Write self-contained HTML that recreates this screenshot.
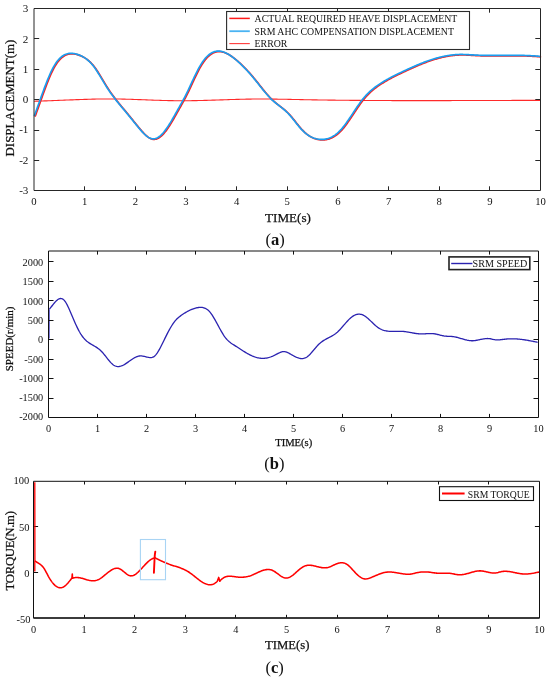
<!DOCTYPE html>
<html><head><meta charset="utf-8"><title>SRM AHC figure</title>
<style>
html,body{margin:0;padding:0;background:#fff;}
body{width:550px;height:681px;overflow:hidden;}
svg{display:block;}
text{font-family:'Liberation Serif','Times New Roman',serif;fill:#111;}
.b{stroke:#111;stroke-width:0.25px;}
</style></head><body>
<svg width="550" height="681" viewBox="0 0 550 681">
<rect x="0" y="0" width="550" height="681" fill="#fff"/>

<g fill="none" stroke-linejoin="round" stroke-linecap="round">
<path d="M34.50 101.20L36.50 101.15L38.50 101.10L40.50 101.05L42.50 100.99L44.50 100.92L46.50 100.85L48.50 100.78L50.50 100.71L52.50 100.64L54.50 100.56L56.50 100.48L58.50 100.40L60.50 100.32L62.50 100.24L64.50 100.16L66.50 100.07L68.50 99.99L70.50 99.91L72.50 99.83L74.50 99.75L76.50 99.67L78.50 99.60L80.50 99.53L82.50 99.46L84.50 99.39L86.50 99.33L88.50 99.26L90.50 99.21L92.50 99.16L94.50 99.11L96.50 99.06L98.50 99.03L100.50 98.99L102.50 98.97L104.50 98.95L106.50 98.93L108.50 98.93L110.50 98.93L112.50 98.94L114.50 98.95L116.50 98.97L118.50 99.00L120.50 99.04L122.50 99.08L124.50 99.13L126.50 99.19L128.50 99.25L130.50 99.31L132.50 99.37L134.50 99.44L136.50 99.51L138.50 99.59L140.50 99.66L142.50 99.74L144.50 99.82L146.50 99.89L148.50 99.97L150.50 100.04L152.50 100.12L154.50 100.19L156.50 100.26L158.50 100.32L160.50 100.39L162.50 100.44L164.50 100.50L166.50 100.55L168.50 100.59L170.50 100.63L172.50 100.66L174.50 100.69L176.50 100.71L178.50 100.72L180.50 100.73L182.50 100.74L184.50 100.73L186.50 100.73L188.50 100.71L190.50 100.69L192.50 100.67L194.50 100.63L196.50 100.60L198.50 100.56L200.50 100.51L202.50 100.46L204.50 100.41L206.50 100.35L208.50 100.30L210.50 100.23L212.50 100.17L214.50 100.11L216.50 100.04L218.50 99.97L220.50 99.91L222.50 99.84L224.50 99.77L226.50 99.70L228.50 99.64L230.50 99.57L232.50 99.51L234.50 99.45L236.50 99.39L238.50 99.33L240.50 99.28L242.50 99.23L244.50 99.19L246.50 99.15L248.50 99.11L250.50 99.08L252.50 99.05L254.50 99.03L256.50 99.02L258.50 99.01L260.50 99.01L262.50 99.01L264.50 99.02L266.50 99.03L268.50 99.04L270.50 99.06L272.50 99.09L274.50 99.11L276.50 99.14L278.50 99.18L280.50 99.21L282.50 99.25L284.50 99.28L286.50 99.32L288.50 99.36L290.50 99.41L292.50 99.45L294.50 99.49L296.50 99.53L298.50 99.57L300.50 99.61L302.50 99.65L304.50 99.69L306.50 99.73L308.50 99.77L310.50 99.80L312.50 99.84L314.50 99.87L316.50 99.90L318.50 99.93L320.50 99.97L322.50 100.00L324.50 100.02L326.50 100.05L328.50 100.08L330.50 100.11L332.50 100.13L334.50 100.16L336.50 100.18L338.50 100.21L340.50 100.23L342.50 100.25L344.50 100.27L346.50 100.29L348.50 100.31L350.50 100.33L352.50 100.35L354.50 100.37L356.50 100.38L358.50 100.40L360.50 100.41L362.50 100.43L364.50 100.44L366.50 100.46L368.50 100.47L370.50 100.48L372.50 100.49L374.50 100.50L376.50 100.51L378.50 100.52L380.50 100.53L382.50 100.54L384.50 100.55L386.50 100.56L388.50 100.56L390.50 100.57L392.50 100.58L394.50 100.58L396.50 100.59L398.50 100.59L400.50 100.59L402.50 100.60L404.50 100.60L406.50 100.60L408.50 100.61L410.50 100.61L412.50 100.61L414.50 100.61L416.50 100.61L418.50 100.61L420.50 100.61L422.50 100.61L424.50 100.61L426.50 100.61L428.50 100.61L430.50 100.61L432.50 100.60L434.50 100.60L436.50 100.60L438.50 100.60L440.50 100.59L442.50 100.59L444.50 100.59L446.50 100.58L448.50 100.58L450.50 100.58L452.50 100.57L454.50 100.57L456.50 100.56L458.50 100.56L460.50 100.55L462.50 100.55L464.50 100.55L466.50 100.54L468.50 100.54L470.50 100.53L472.50 100.52L474.50 100.52L476.50 100.51L478.50 100.51L480.50 100.50L482.50 100.50L484.50 100.49L486.50 100.49L488.50 100.48L490.50 100.48L492.50 100.47L494.50 100.47L496.50 100.46L498.50 100.46L500.50 100.45L502.50 100.45L504.50 100.44L506.50 100.44L508.50 100.43L510.50 100.43L512.50 100.42L514.50 100.42L516.50 100.42L518.50 100.41L520.50 100.41L522.50 100.40L524.50 100.40L526.50 100.40L528.50 100.40L530.50 100.39L532.50 100.39L534.50 100.39L536.50 100.39L538.50 100.39L540.00 100.39" stroke="#ff2a2a" stroke-width="1.1"/>
<path d="M34.50 115.42L35.25 113.38L36.00 111.32L36.75 109.25L37.50 107.16L38.25 105.06L39.00 102.95L39.75 100.84L40.50 98.74L41.25 96.64L42.00 94.55L42.75 92.48L43.50 90.43L44.25 88.40L45.00 86.40L45.75 84.43L46.50 82.50L47.25 80.60L48.00 78.76L48.75 76.96L49.50 75.22L50.25 73.53L51.00 71.91L51.75 70.35L52.50 68.86L53.25 67.45L54.00 66.12L54.75 64.86L55.50 63.68L56.25 62.58L57.00 61.55L57.75 60.59L58.50 59.70L59.25 58.88L60.00 58.12L60.75 57.43L61.50 56.80L62.25 56.23L63.00 55.71L63.75 55.26L64.50 54.85L65.25 54.50L66.00 54.20L66.75 53.95L67.50 53.74L68.25 53.57L69.00 53.45L69.75 53.37L70.50 53.33L71.25 53.32L72.00 53.35L72.75 53.41L73.50 53.51L74.25 53.63L75.00 53.78L75.75 53.95L76.50 54.14L77.25 54.36L78.00 54.60L78.75 54.86L79.50 55.14L80.25 55.45L81.00 55.78L81.75 56.13L82.50 56.52L83.25 56.93L84.00 57.38L84.75 57.86L85.50 58.37L86.25 58.91L87.00 59.49L87.75 60.11L88.50 60.76L89.25 61.46L90.00 62.19L90.75 62.97L91.50 63.79L92.25 64.65L93.00 65.57L93.75 66.52L94.50 67.53L95.25 68.58L96.00 69.68L96.75 70.82L97.50 71.98L98.25 73.18L99.00 74.40L99.75 75.64L100.50 76.89L101.25 78.15L102.00 79.41L102.75 80.67L103.50 81.93L104.25 83.17L105.00 84.40L105.75 85.61L106.50 86.80L107.25 87.97L108.00 89.12L108.75 90.25L109.50 91.36L110.25 92.44L111.00 93.51L111.75 94.55L112.50 95.57L113.25 96.58L114.00 97.57L114.75 98.54L115.50 99.50L116.25 100.45L117.00 101.39L117.75 102.32L118.50 103.24L119.25 104.15L120.00 105.05L120.75 105.95L121.50 106.85L122.25 107.74L123.00 108.64L123.75 109.53L124.50 110.42L125.25 111.32L126.00 112.22L126.75 113.13L127.50 114.04L128.25 114.96L129.00 115.88L129.75 116.80L130.50 117.73L131.25 118.65L132.00 119.58L132.75 120.51L133.50 121.44L134.25 122.37L135.00 123.30L135.75 124.22L136.50 125.14L137.25 126.06L138.00 126.97L138.75 127.88L139.50 128.77L140.25 129.66L141.00 130.52L141.75 131.37L142.50 132.19L143.25 132.98L144.00 133.74L144.75 134.47L145.50 135.15L146.25 135.79L147.00 136.38L147.75 136.91L148.50 137.39L149.25 137.81L150.00 138.17L150.75 138.45L151.50 138.67L152.25 138.80L153.00 138.86L153.75 138.85L154.50 138.75L155.25 138.59L156.00 138.35L156.75 138.05L157.50 137.67L158.25 137.23L159.00 136.73L159.75 136.16L160.50 135.54L161.25 134.85L162.00 134.11L162.75 133.32L163.50 132.47L164.25 131.57L165.00 130.62L165.75 129.62L166.50 128.58L167.25 127.50L168.00 126.38L168.75 125.23L169.50 124.04L170.25 122.83L171.00 121.59L171.75 120.33L172.50 119.05L173.25 117.75L174.00 116.43L174.75 115.11L175.50 113.78L176.25 112.44L177.00 111.10L177.75 109.75L178.50 108.42L179.25 107.08L180.00 105.75L180.75 104.41L181.50 103.06L182.25 101.71L183.00 100.34L183.75 98.95L184.50 97.53L185.25 96.09L186.00 94.62L186.75 93.12L187.50 91.59L188.25 90.03L189.00 88.44L189.75 86.84L190.50 85.23L191.25 83.61L192.00 81.98L192.75 80.37L193.50 78.76L194.25 77.16L195.00 75.59L195.75 74.04L196.50 72.52L197.25 71.04L198.00 69.60L198.75 68.20L199.50 66.86L200.25 65.57L201.00 64.34L201.75 63.16L202.50 62.04L203.25 60.98L204.00 59.97L204.75 59.02L205.50 58.12L206.25 57.28L207.00 56.50L207.75 55.77L208.50 55.10L209.25 54.49L210.00 53.93L210.75 53.42L211.50 52.97L212.25 52.58L213.00 52.23L213.75 51.93L214.50 51.68L215.25 51.48L216.00 51.32L216.75 51.21L217.50 51.14L218.25 51.11L219.00 51.13L219.75 51.18L220.50 51.28L221.25 51.41L222.00 51.58L222.75 51.78L223.50 52.02L224.25 52.29L225.00 52.59L225.75 52.92L226.50 53.28L227.25 53.67L228.00 54.09L228.75 54.53L229.50 54.99L230.25 55.48L231.00 55.99L231.75 56.52L232.50 57.07L233.25 57.64L234.00 58.23L234.75 58.83L235.50 59.45L236.25 60.08L237.00 60.72L237.75 61.38L238.50 62.05L239.25 62.73L240.00 63.42L240.75 64.13L241.50 64.85L242.25 65.58L243.00 66.32L243.75 67.07L244.50 67.84L245.25 68.62L246.00 69.41L246.75 70.21L247.50 71.03L248.25 71.85L249.00 72.69L249.75 73.53L250.50 74.39L251.25 75.26L252.00 76.14L252.75 77.03L253.50 77.94L254.25 78.85L255.00 79.77L255.75 80.70L256.50 81.64L257.25 82.58L258.00 83.52L258.75 84.47L259.50 85.42L260.25 86.36L261.00 87.31L261.75 88.24L262.50 89.18L263.25 90.10L264.00 91.01L264.75 91.92L265.50 92.81L266.25 93.69L267.00 94.55L267.75 95.39L268.50 96.22L269.25 97.02L270.00 97.81L270.75 98.57L271.50 99.30L272.25 100.01L273.00 100.70L273.75 101.36L274.50 102.00L275.25 102.62L276.00 103.23L276.75 103.83L277.50 104.42L278.25 105.00L279.00 105.58L279.75 106.15L280.50 106.73L281.25 107.32L282.00 107.91L282.75 108.51L283.50 109.13L284.25 109.76L285.00 110.41L285.75 111.09L286.50 111.78L287.25 112.51L288.00 113.26L288.75 114.05L289.50 114.87L290.25 115.72L291.00 116.60L291.75 117.50L292.50 118.42L293.25 119.36L294.00 120.30L294.75 121.26L295.50 122.21L296.25 123.16L297.00 124.11L297.75 125.05L298.50 125.97L299.25 126.87L300.00 127.75L300.75 128.61L301.50 129.43L302.25 130.21L303.00 130.96L303.75 131.68L304.50 132.35L305.25 133.00L306.00 133.61L306.75 134.18L307.50 134.72L308.25 135.23L309.00 135.71L309.75 136.16L310.50 136.57L311.25 136.96L312.00 137.31L312.75 137.63L313.50 137.93L314.25 138.20L315.00 138.44L315.75 138.65L316.50 138.83L317.25 138.99L318.00 139.13L318.75 139.23L319.50 139.32L320.25 139.37L321.00 139.41L321.75 139.42L322.50 139.41L323.25 139.37L324.00 139.30L324.75 139.21L325.50 139.10L326.25 138.95L327.00 138.78L327.75 138.57L328.50 138.34L329.25 138.08L330.00 137.79L330.75 137.47L331.50 137.11L332.25 136.72L333.00 136.30L333.75 135.85L334.50 135.36L335.25 134.84L336.00 134.28L336.75 133.69L337.50 133.06L338.25 132.39L339.00 131.68L339.75 130.94L340.50 130.15L341.25 129.33L342.00 128.47L342.75 127.58L343.50 126.65L344.25 125.69L345.00 124.71L345.75 123.70L346.50 122.66L347.25 121.61L348.00 120.53L348.75 119.45L349.50 118.34L350.25 117.23L351.00 116.11L351.75 114.98L352.50 113.85L353.25 112.71L354.00 111.58L354.75 110.45L355.50 109.32L356.25 108.21L357.00 107.10L357.75 106.01L358.50 104.93L359.25 103.87L360.00 102.82L360.75 101.80L361.50 100.81L362.25 99.84L363.00 98.90L363.75 97.99L364.50 97.11L365.25 96.26L366.00 95.43L366.75 94.63L367.50 93.86L368.25 93.11L369.00 92.38L369.75 91.67L370.50 90.99L371.25 90.33L372.00 89.68L372.75 89.06L373.50 88.45L374.25 87.86L375.00 87.29L375.75 86.73L376.50 86.18L377.25 85.65L378.00 85.13L378.75 84.62L379.50 84.12L380.25 83.63L381.00 83.14L381.75 82.67L382.50 82.20L383.25 81.74L384.00 81.29L384.75 80.85L385.50 80.41L386.25 79.98L387.00 79.55L387.75 79.13L388.50 78.72L389.25 78.31L390.00 77.91L390.75 77.51L391.50 77.12L392.25 76.73L393.00 76.34L393.75 75.96L394.50 75.58L395.25 75.21L396.00 74.84L396.75 74.47L397.50 74.10L398.25 73.74L399.00 73.38L399.75 73.02L400.50 72.66L401.25 72.30L402.00 71.94L402.75 71.59L403.50 71.23L404.25 70.88L405.00 70.53L405.75 70.18L406.50 69.83L407.25 69.48L408.00 69.13L408.75 68.79L409.50 68.45L410.25 68.11L411.00 67.77L411.75 67.43L412.50 67.10L413.25 66.77L414.00 66.44L414.75 66.11L415.50 65.78L416.25 65.46L417.00 65.14L417.75 64.83L418.50 64.51L419.25 64.20L420.00 63.90L420.75 63.59L421.50 63.29L422.25 63.00L423.00 62.70L423.75 62.41L424.50 62.13L425.25 61.85L426.00 61.57L426.75 61.29L427.50 61.02L428.25 60.76L429.00 60.50L429.75 60.24L430.50 59.99L431.25 59.74L432.00 59.49L432.75 59.26L433.50 59.02L434.25 58.79L435.00 58.57L435.75 58.35L436.50 58.14L437.25 57.93L438.00 57.73L438.75 57.53L439.50 57.34L440.25 57.15L441.00 56.97L441.75 56.79L442.50 56.62L443.25 56.46L444.00 56.30L444.75 56.15L445.50 56.01L446.25 55.87L447.00 55.73L447.75 55.61L448.50 55.48L449.25 55.37L450.00 55.26L450.75 55.16L451.50 55.06L452.25 54.97L453.00 54.89L453.75 54.82L454.50 54.75L455.25 54.69L456.00 54.63L456.75 54.59L457.50 54.54L458.25 54.51L459.00 54.48L459.75 54.47L460.50 54.45L461.25 54.45L462.00 54.45L462.75 54.46L463.50 54.48L464.25 54.49L465.00 54.52L465.75 54.55L466.50 54.58L467.25 54.62L468.00 54.65L468.75 54.70L469.50 54.74L470.25 54.78L471.00 54.83L471.75 54.87L472.50 54.92L473.25 54.96L474.00 55.01L474.75 55.05L475.50 55.09L476.25 55.13L477.00 55.16L477.75 55.20L478.50 55.23L479.25 55.26L480.00 55.28L480.75 55.31L481.50 55.33L482.25 55.35L483.00 55.37L483.75 55.39L484.50 55.40L485.25 55.41L486.00 55.43L486.75 55.44L487.50 55.45L488.25 55.45L489.00 55.46L489.75 55.46L490.50 55.47L491.25 55.47L492.00 55.47L492.75 55.47L493.50 55.47L494.25 55.47L495.00 55.47L495.75 55.46L496.50 55.46L497.25 55.46L498.00 55.45L498.75 55.45L499.50 55.44L500.25 55.44L501.00 55.43L501.75 55.42L502.50 55.42L503.25 55.41L504.00 55.40L504.75 55.40L505.50 55.39L506.25 55.38L507.00 55.38L507.75 55.37L508.50 55.37L509.25 55.36L510.00 55.36L510.75 55.35L511.50 55.35L512.25 55.35L513.00 55.35L513.75 55.35L514.50 55.35L515.25 55.35L516.00 55.35L516.75 55.36L517.50 55.36L518.25 55.37L519.00 55.38L519.75 55.38L520.50 55.39L521.25 55.41L522.00 55.42L522.75 55.44L523.50 55.45L524.25 55.47L525.00 55.49L525.75 55.52L526.50 55.54L527.25 55.57L528.00 55.60L528.75 55.63L529.50 55.66L530.25 55.70L531.00 55.74L531.75 55.78L532.50 55.82L533.25 55.87L534.00 55.91L534.75 55.97L535.50 56.02L536.25 56.08L537.00 56.14L537.75 56.20L538.50 56.27L539.25 56.34L539.60 56.37" stroke="#ff1a1a" stroke-width="1.7" transform="translate(0.8,0.5)"/>
<path d="M34.50 115.42L35.25 113.38L36.00 111.32L36.75 109.25L37.50 107.16L38.25 105.06L39.00 102.95L39.75 100.84L40.50 98.74L41.25 96.64L42.00 94.55L42.75 92.48L43.50 90.43L44.25 88.40L45.00 86.40L45.75 84.43L46.50 82.50L47.25 80.60L48.00 78.76L48.75 76.96L49.50 75.22L50.25 73.53L51.00 71.91L51.75 70.35L52.50 68.86L53.25 67.45L54.00 66.12L54.75 64.86L55.50 63.68L56.25 62.58L57.00 61.55L57.75 60.59L58.50 59.70L59.25 58.88L60.00 58.12L60.75 57.43L61.50 56.80L62.25 56.23L63.00 55.71L63.75 55.26L64.50 54.85L65.25 54.50L66.00 54.20L66.75 53.95L67.50 53.74L68.25 53.57L69.00 53.45L69.75 53.37L70.50 53.33L71.25 53.32L72.00 53.35L72.75 53.41L73.50 53.51L74.25 53.63L75.00 53.78L75.75 53.95L76.50 54.14L77.25 54.36L78.00 54.60L78.75 54.86L79.50 55.14L80.25 55.45L81.00 55.78L81.75 56.13L82.50 56.52L83.25 56.93L84.00 57.38L84.75 57.86L85.50 58.37L86.25 58.91L87.00 59.49L87.75 60.11L88.50 60.76L89.25 61.46L90.00 62.19L90.75 62.97L91.50 63.79L92.25 64.65L93.00 65.57L93.75 66.52L94.50 67.53L95.25 68.58L96.00 69.68L96.75 70.82L97.50 71.98L98.25 73.18L99.00 74.40L99.75 75.64L100.50 76.89L101.25 78.15L102.00 79.41L102.75 80.67L103.50 81.93L104.25 83.17L105.00 84.40L105.75 85.61L106.50 86.80L107.25 87.97L108.00 89.12L108.75 90.25L109.50 91.36L110.25 92.44L111.00 93.51L111.75 94.55L112.50 95.57L113.25 96.58L114.00 97.57L114.75 98.54L115.50 99.50L116.25 100.45L117.00 101.39L117.75 102.32L118.50 103.24L119.25 104.15L120.00 105.05L120.75 105.95L121.50 106.85L122.25 107.74L123.00 108.64L123.75 109.53L124.50 110.42L125.25 111.32L126.00 112.22L126.75 113.13L127.50 114.04L128.25 114.96L129.00 115.88L129.75 116.80L130.50 117.73L131.25 118.65L132.00 119.58L132.75 120.51L133.50 121.44L134.25 122.37L135.00 123.30L135.75 124.22L136.50 125.14L137.25 126.06L138.00 126.97L138.75 127.88L139.50 128.77L140.25 129.66L141.00 130.52L141.75 131.37L142.50 132.19L143.25 132.98L144.00 133.74L144.75 134.47L145.50 135.15L146.25 135.79L147.00 136.38L147.75 136.91L148.50 137.39L149.25 137.81L150.00 138.17L150.75 138.45L151.50 138.67L152.25 138.80L153.00 138.86L153.75 138.85L154.50 138.75L155.25 138.59L156.00 138.35L156.75 138.05L157.50 137.67L158.25 137.23L159.00 136.73L159.75 136.16L160.50 135.54L161.25 134.85L162.00 134.11L162.75 133.32L163.50 132.47L164.25 131.57L165.00 130.62L165.75 129.62L166.50 128.58L167.25 127.50L168.00 126.38L168.75 125.23L169.50 124.04L170.25 122.83L171.00 121.59L171.75 120.33L172.50 119.05L173.25 117.75L174.00 116.43L174.75 115.11L175.50 113.78L176.25 112.44L177.00 111.10L177.75 109.75L178.50 108.42L179.25 107.08L180.00 105.75L180.75 104.41L181.50 103.06L182.25 101.71L183.00 100.34L183.75 98.95L184.50 97.53L185.25 96.09L186.00 94.62L186.75 93.12L187.50 91.59L188.25 90.03L189.00 88.44L189.75 86.84L190.50 85.23L191.25 83.61L192.00 81.98L192.75 80.37L193.50 78.76L194.25 77.16L195.00 75.59L195.75 74.04L196.50 72.52L197.25 71.04L198.00 69.60L198.75 68.20L199.50 66.86L200.25 65.57L201.00 64.34L201.75 63.16L202.50 62.04L203.25 60.98L204.00 59.97L204.75 59.02L205.50 58.12L206.25 57.28L207.00 56.50L207.75 55.77L208.50 55.10L209.25 54.49L210.00 53.93L210.75 53.42L211.50 52.97L212.25 52.58L213.00 52.23L213.75 51.93L214.50 51.68L215.25 51.48L216.00 51.32L216.75 51.21L217.50 51.14L218.25 51.11L219.00 51.13L219.75 51.18L220.50 51.28L221.25 51.41L222.00 51.58L222.75 51.78L223.50 52.02L224.25 52.29L225.00 52.59L225.75 52.92L226.50 53.28L227.25 53.67L228.00 54.09L228.75 54.53L229.50 54.99L230.25 55.48L231.00 55.99L231.75 56.52L232.50 57.07L233.25 57.64L234.00 58.23L234.75 58.83L235.50 59.45L236.25 60.08L237.00 60.72L237.75 61.38L238.50 62.05L239.25 62.73L240.00 63.42L240.75 64.13L241.50 64.85L242.25 65.58L243.00 66.32L243.75 67.07L244.50 67.84L245.25 68.62L246.00 69.41L246.75 70.21L247.50 71.03L248.25 71.85L249.00 72.69L249.75 73.53L250.50 74.39L251.25 75.26L252.00 76.14L252.75 77.03L253.50 77.94L254.25 78.85L255.00 79.77L255.75 80.70L256.50 81.64L257.25 82.58L258.00 83.52L258.75 84.47L259.50 85.42L260.25 86.36L261.00 87.31L261.75 88.24L262.50 89.18L263.25 90.10L264.00 91.01L264.75 91.92L265.50 92.81L266.25 93.69L267.00 94.55L267.75 95.39L268.50 96.22L269.25 97.02L270.00 97.81L270.75 98.57L271.50 99.30L272.25 100.01L273.00 100.70L273.75 101.36L274.50 102.00L275.25 102.62L276.00 103.23L276.75 103.83L277.50 104.42L278.25 105.00L279.00 105.58L279.75 106.15L280.50 106.73L281.25 107.32L282.00 107.91L282.75 108.51L283.50 109.13L284.25 109.76L285.00 110.41L285.75 111.09L286.50 111.78L287.25 112.51L288.00 113.26L288.75 114.05L289.50 114.87L290.25 115.72L291.00 116.60L291.75 117.50L292.50 118.42L293.25 119.36L294.00 120.30L294.75 121.26L295.50 122.21L296.25 123.16L297.00 124.11L297.75 125.05L298.50 125.97L299.25 126.87L300.00 127.75L300.75 128.61L301.50 129.43L302.25 130.21L303.00 130.96L303.75 131.68L304.50 132.35L305.25 133.00L306.00 133.61L306.75 134.18L307.50 134.72L308.25 135.23L309.00 135.71L309.75 136.16L310.50 136.57L311.25 136.96L312.00 137.31L312.75 137.63L313.50 137.93L314.25 138.20L315.00 138.44L315.75 138.65L316.50 138.83L317.25 138.99L318.00 139.13L318.75 139.23L319.50 139.32L320.25 139.37L321.00 139.41L321.75 139.42L322.50 139.41L323.25 139.37L324.00 139.30L324.75 139.21L325.50 139.10L326.25 138.95L327.00 138.78L327.75 138.57L328.50 138.34L329.25 138.08L330.00 137.79L330.75 137.47L331.50 137.11L332.25 136.72L333.00 136.30L333.75 135.85L334.50 135.36L335.25 134.84L336.00 134.28L336.75 133.69L337.50 133.06L338.25 132.39L339.00 131.68L339.75 130.94L340.50 130.15L341.25 129.33L342.00 128.47L342.75 127.58L343.50 126.65L344.25 125.69L345.00 124.71L345.75 123.70L346.50 122.66L347.25 121.61L348.00 120.53L348.75 119.45L349.50 118.34L350.25 117.23L351.00 116.11L351.75 114.98L352.50 113.85L353.25 112.71L354.00 111.58L354.75 110.45L355.50 109.32L356.25 108.21L357.00 107.10L357.75 106.01L358.50 104.93L359.25 103.87L360.00 102.82L360.75 101.80L361.50 100.81L362.25 99.84L363.00 98.90L363.75 97.99L364.50 97.11L365.25 96.26L366.00 95.43L366.75 94.63L367.50 93.86L368.25 93.11L369.00 92.38L369.75 91.67L370.50 90.99L371.25 90.33L372.00 89.68L372.75 89.06L373.50 88.45L374.25 87.86L375.00 87.29L375.75 86.73L376.50 86.18L377.25 85.65L378.00 85.13L378.75 84.62L379.50 84.12L380.25 83.63L381.00 83.14L381.75 82.67L382.50 82.20L383.25 81.74L384.00 81.29L384.75 80.85L385.50 80.41L386.25 79.98L387.00 79.55L387.75 79.13L388.50 78.72L389.25 78.31L390.00 77.91L390.75 77.51L391.50 77.12L392.25 76.73L393.00 76.34L393.75 75.96L394.50 75.58L395.25 75.21L396.00 74.84L396.75 74.47L397.50 74.10L398.25 73.74L399.00 73.38L399.75 73.02L400.50 72.66L401.25 72.30L402.00 71.94L402.75 71.59L403.50 71.23L404.25 70.88L405.00 70.53L405.75 70.18L406.50 69.83L407.25 69.48L408.00 69.13L408.75 68.79L409.50 68.45L410.25 68.11L411.00 67.77L411.75 67.43L412.50 67.10L413.25 66.77L414.00 66.44L414.75 66.11L415.50 65.78L416.25 65.46L417.00 65.14L417.75 64.83L418.50 64.51L419.25 64.20L420.00 63.90L420.75 63.59L421.50 63.29L422.25 63.00L423.00 62.70L423.75 62.41L424.50 62.13L425.25 61.85L426.00 61.57L426.75 61.29L427.50 61.02L428.25 60.76L429.00 60.50L429.75 60.24L430.50 59.99L431.25 59.74L432.00 59.49L432.75 59.26L433.50 59.02L434.25 58.79L435.00 58.57L435.75 58.35L436.50 58.14L437.25 57.93L438.00 57.73L438.75 57.53L439.50 57.34L440.25 57.15L441.00 56.97L441.75 56.79L442.50 56.62L443.25 56.46L444.00 56.30L444.75 56.15L445.50 56.01L446.25 55.87L447.00 55.73L447.75 55.61L448.50 55.48L449.25 55.37L450.00 55.26L450.75 55.16L451.50 55.06L452.25 54.97L453.00 54.89L453.75 54.82L454.50 54.75L455.25 54.69L456.00 54.63L456.75 54.59L457.50 54.54L458.25 54.51L459.00 54.48L459.75 54.47L460.50 54.45L461.25 54.45L462.00 54.45L462.75 54.46L463.50 54.48L464.25 54.49L465.00 54.52L465.75 54.55L466.50 54.58L467.25 54.62L468.00 54.65L468.75 54.70L469.50 54.74L470.25 54.78L471.00 54.83L471.75 54.87L472.50 54.92L473.25 54.96L474.00 55.01L474.75 55.05L475.50 55.09L476.25 55.13L477.00 55.16L477.75 55.20L478.50 55.23L479.25 55.26L480.00 55.28L480.75 55.31L481.50 55.33L482.25 55.35L483.00 55.37L483.75 55.39L484.50 55.40L485.25 55.41L486.00 55.43L486.75 55.44L487.50 55.45L488.25 55.45L489.00 55.46L489.75 55.46L490.50 55.47L491.25 55.47L492.00 55.47L492.75 55.47L493.50 55.47L494.25 55.47L495.00 55.47L495.75 55.46L496.50 55.46L497.25 55.46L498.00 55.45L498.75 55.45L499.50 55.44L500.25 55.44L501.00 55.43L501.75 55.42L502.50 55.42L503.25 55.41L504.00 55.40L504.75 55.40L505.50 55.39L506.25 55.38L507.00 55.38L507.75 55.37L508.50 55.37L509.25 55.36L510.00 55.36L510.75 55.35L511.50 55.35L512.25 55.35L513.00 55.35L513.75 55.35L514.50 55.35L515.25 55.35L516.00 55.35L516.75 55.36L517.50 55.36L518.25 55.37L519.00 55.38L519.75 55.38L520.50 55.39L521.25 55.41L522.00 55.42L522.75 55.44L523.50 55.45L524.25 55.47L525.00 55.49L525.75 55.52L526.50 55.54L527.25 55.57L528.00 55.60L528.75 55.63L529.50 55.66L530.25 55.70L531.00 55.74L531.75 55.78L532.50 55.82L533.25 55.87L534.00 55.91L534.75 55.97L535.50 56.02L536.25 56.08L537.00 56.14L537.75 56.20L538.50 56.27L539.25 56.34L539.60 56.37" stroke="#1a9ef0" stroke-width="1.7"/>
</g>
<path d="M34.0 8.5H540.5V190.5H34.0ZM34.00 160.50h5.20M540.50 160.50h-5.20M34.00 130.50h5.20M540.50 130.50h-5.20M34.00 99.50h5.20M540.50 99.50h-5.20M34.00 69.50h5.20M540.50 69.50h-5.20M34.00 38.50h5.20M540.50 38.50h-5.20M84.50 190.50v-4.20M84.50 8.50v4.20M135.50 190.50v-4.20M135.50 8.50v4.20M185.50 190.50v-4.20M185.50 8.50v4.20M236.50 190.50v-4.20M236.50 8.50v4.20M287.50 190.50v-4.20M287.50 8.50v4.20M337.50 190.50v-4.20M337.50 8.50v4.20M388.50 190.50v-4.20M388.50 8.50v4.20M439.50 190.50v-4.20M439.50 8.50v4.20M489.50 190.50v-4.20M489.50 8.50v4.20" fill="none" stroke="#262626" stroke-width="1"/>
<text x="28.40" y="193.74" font-size="11.1" text-anchor="end">-3</text>
<text x="28.40" y="163.51" font-size="11.1" text-anchor="end">-2</text>
<text x="28.40" y="133.28" font-size="11.1" text-anchor="end">-1</text>
<text x="28.40" y="103.05" font-size="11.1" text-anchor="end">0</text>
<text x="28.40" y="72.82" font-size="11.1" text-anchor="end">1</text>
<text x="28.40" y="42.59" font-size="11.1" text-anchor="end">2</text>
<text x="28.40" y="12.36" font-size="11.1" text-anchor="end">3</text>
<text x="34.00" y="205.40" font-size="10.7" text-anchor="middle">0</text>
<text x="84.65" y="205.40" font-size="10.7" text-anchor="middle">1</text>
<text x="135.30" y="205.40" font-size="10.7" text-anchor="middle">2</text>
<text x="185.95" y="205.40" font-size="10.7" text-anchor="middle">3</text>
<text x="236.60" y="205.40" font-size="10.7" text-anchor="middle">4</text>
<text x="287.25" y="205.40" font-size="10.7" text-anchor="middle">5</text>
<text x="337.90" y="205.40" font-size="10.7" text-anchor="middle">6</text>
<text x="388.55" y="205.40" font-size="10.7" text-anchor="middle">7</text>
<text x="439.20" y="205.40" font-size="10.7" text-anchor="middle">8</text>
<text x="489.85" y="205.40" font-size="10.7" text-anchor="middle">9</text>
<text x="540.50" y="205.40" font-size="10.7" text-anchor="middle">10</text>
<text x="288.00" y="221.70" font-size="13.1" text-anchor="middle" class="b">TIME(s)</text>
<text transform="translate(14.2,98.1) rotate(-90)" class="b" font-size="12.9" text-anchor="middle">DISPLACEMENT(m)</text>
<rect x="226.6" y="11.5" width="242.9" height="38" fill="#fff" stroke="#2b2b2b" stroke-width="1.1"/>
<path d="M229.3 18.4H249.8" stroke="#ff1a1a" stroke-width="1.5"/>
<path d="M229.3 31.2H249.8" stroke="#4ab3f2" stroke-width="1.8"/>
<path d="M229.3 43.6H249.8" stroke="#ff3a3a" stroke-width="1.1"/>
<text x="254.60" y="22.20" font-size="9.8">ACTUAL REQUIRED HEAVE DISPLACEMENT</text>
<text x="254.60" y="34.90" font-size="9.85">SRM AHC COMPENSATION DISPLACEMENT</text>
<text x="254.60" y="47.20" font-size="9.85">ERROR</text>
<text x="275" y="244.6" font-size="16.5" text-anchor="middle">(<tspan font-weight="bold">a</tspan>)</text>
<path d="M49.30 309.39L50.05 308.44L50.80 307.46L51.55 306.48L52.30 305.50L53.05 304.54L53.80 303.60L54.55 302.71L55.30 301.87L56.05 301.09L56.80 300.40L57.55 299.79L58.30 299.28L59.05 298.89L59.80 298.63L60.55 298.50L61.30 298.53L62.05 298.72L62.80 299.09L63.55 299.65L64.30 300.40L65.05 301.35L65.80 302.47L66.55 303.75L67.30 305.15L68.05 306.67L68.80 308.29L69.55 309.97L70.30 311.71L71.05 313.49L71.80 315.28L72.55 317.06L73.30 318.82L74.05 320.56L74.80 322.26L75.55 323.92L76.30 325.55L77.05 327.12L77.80 328.63L78.55 330.09L79.30 331.48L80.05 332.79L80.80 334.03L81.55 335.19L82.30 336.25L83.05 337.24L83.80 338.15L84.55 338.99L85.30 339.76L86.05 340.48L86.80 341.14L87.55 341.75L88.30 342.32L89.05 342.85L89.80 343.35L90.55 343.83L91.30 344.29L92.05 344.73L92.80 345.16L93.55 345.59L94.30 346.02L95.05 346.46L95.80 346.92L96.55 347.39L97.30 347.89L98.05 348.42L98.80 348.98L99.55 349.59L100.30 350.24L101.05 350.95L101.80 351.71L102.55 352.53L103.30 353.40L104.05 354.31L104.80 355.24L105.55 356.19L106.30 357.15L107.05 358.11L107.80 359.06L108.55 360.00L109.30 360.90L110.05 361.77L110.80 362.59L111.55 363.35L112.30 364.05L113.05 364.67L113.80 365.21L114.55 365.65L115.30 366.00L116.05 366.26L116.80 366.44L117.55 366.53L118.30 366.55L119.05 366.50L119.80 366.38L120.55 366.20L121.30 365.97L122.05 365.68L122.80 365.35L123.55 364.98L124.30 364.56L125.05 364.12L125.80 363.65L126.55 363.16L127.30 362.65L128.05 362.12L128.80 361.59L129.55 361.06L130.30 360.52L131.05 360.00L131.80 359.48L132.55 358.98L133.30 358.50L134.05 358.05L134.80 357.63L135.55 357.24L136.30 356.90L137.05 356.60L137.80 356.35L138.55 356.15L139.30 356.01L140.05 355.94L140.80 355.93L141.55 355.96L142.30 356.05L143.05 356.17L143.80 356.31L144.55 356.48L145.30 356.66L146.05 356.84L146.80 357.02L147.55 357.19L148.30 357.34L149.05 357.46L149.80 357.55L150.55 357.59L151.30 357.57L152.05 357.46L152.80 357.23L153.55 356.87L154.30 356.35L155.05 355.67L155.80 354.86L156.55 353.91L157.30 352.85L158.05 351.69L158.80 350.43L159.55 349.10L160.30 347.70L161.05 346.25L161.80 344.76L162.55 343.24L163.30 341.71L164.05 340.17L164.80 338.64L165.55 337.12L166.30 335.61L167.05 334.13L167.80 332.67L168.55 331.25L169.30 329.86L170.05 328.51L170.80 327.21L171.55 325.96L172.30 324.77L173.05 323.64L173.80 322.58L174.55 321.59L175.30 320.67L176.05 319.83L176.80 319.05L177.55 318.33L178.30 317.65L179.05 317.02L179.80 316.43L180.55 315.86L181.30 315.32L182.05 314.80L182.80 314.29L183.55 313.79L184.30 313.31L185.05 312.84L185.80 312.38L186.55 311.94L187.30 311.52L188.05 311.12L188.80 310.73L189.55 310.35L190.30 310.00L191.05 309.67L191.80 309.35L192.55 309.06L193.30 308.79L194.05 308.53L194.80 308.30L195.55 308.10L196.30 307.91L197.05 307.75L197.80 307.62L198.55 307.51L199.30 307.42L200.05 307.37L200.80 307.36L201.55 307.39L202.30 307.47L203.05 307.59L203.80 307.78L204.55 308.03L205.30 308.34L206.05 308.73L206.80 309.19L207.55 309.73L208.30 310.36L209.05 311.08L209.80 311.90L210.55 312.82L211.30 313.83L212.05 314.92L212.80 316.09L213.55 317.32L214.30 318.60L215.05 319.92L215.80 321.27L216.55 322.64L217.30 324.03L218.05 325.42L218.80 326.81L219.55 328.19L220.30 329.55L221.05 330.88L221.80 332.18L222.55 333.43L223.30 334.64L224.05 335.78L224.80 336.85L225.55 337.85L226.30 338.77L227.05 339.61L227.80 340.38L228.55 341.09L229.30 341.75L230.05 342.35L230.80 342.92L231.55 343.45L232.30 343.96L233.05 344.44L233.80 344.92L234.55 345.39L235.30 345.86L236.05 346.33L236.80 346.82L237.55 347.30L238.30 347.79L239.05 348.28L239.80 348.77L240.55 349.26L241.30 349.75L242.05 350.24L242.80 350.72L243.55 351.19L244.30 351.66L245.05 352.12L245.80 352.58L246.55 353.02L247.30 353.45L248.05 353.87L248.80 354.28L249.55 354.67L250.30 355.05L251.05 355.41L251.80 355.75L252.55 356.08L253.30 356.38L254.05 356.67L254.80 356.93L255.55 357.17L256.30 357.39L257.05 357.59L257.80 357.76L258.55 357.91L259.30 358.04L260.05 358.15L260.80 358.23L261.55 358.29L262.30 358.32L263.05 358.33L263.80 358.31L264.55 358.27L265.30 358.21L266.05 358.11L266.80 357.99L267.55 357.85L268.30 357.68L269.05 357.48L269.80 357.25L270.55 357.00L271.30 356.71L272.05 356.40L272.80 356.07L273.55 355.72L274.30 355.35L275.05 354.97L275.80 354.58L276.55 354.20L277.30 353.82L278.05 353.44L278.80 353.08L279.55 352.74L280.30 352.42L281.05 352.14L281.80 351.90L282.55 351.72L283.30 351.61L284.05 351.57L284.80 351.62L285.55 351.77L286.30 351.99L287.05 352.28L287.80 352.62L288.55 353.01L289.30 353.41L290.05 353.84L290.80 354.27L291.55 354.70L292.30 355.13L293.05 355.55L293.80 355.96L294.55 356.36L295.30 356.74L296.05 357.10L296.80 357.43L297.55 357.73L298.30 357.99L299.05 358.21L299.80 358.38L300.55 358.51L301.30 358.58L302.05 358.59L302.80 358.54L303.55 358.43L304.30 358.24L305.05 357.98L305.80 357.64L306.55 357.22L307.30 356.71L308.05 356.12L308.80 355.46L309.55 354.74L310.30 353.97L311.05 353.15L311.80 352.30L312.55 351.43L313.30 350.53L314.05 349.63L314.80 348.73L315.55 347.84L316.30 346.96L317.05 346.11L317.80 345.30L318.55 344.53L319.30 343.81L320.05 343.14L320.80 342.52L321.55 341.94L322.30 341.40L323.05 340.89L323.80 340.40L324.55 339.95L325.30 339.51L326.05 339.10L326.80 338.69L327.55 338.30L328.30 337.91L329.05 337.52L329.80 337.13L330.55 336.73L331.30 336.32L332.05 335.90L332.80 335.45L333.55 334.99L334.30 334.49L335.05 333.97L335.80 333.41L336.55 332.81L337.30 332.17L338.05 331.48L338.80 330.75L339.55 329.99L340.30 329.19L341.05 328.36L341.80 327.52L342.55 326.66L343.30 325.79L344.05 324.92L344.80 324.05L345.55 323.19L346.30 322.33L347.05 321.50L347.80 320.69L348.55 319.90L349.30 319.15L350.05 318.44L350.80 317.77L351.55 317.15L352.30 316.59L353.05 316.08L353.80 315.63L354.55 315.24L355.30 314.91L356.05 314.64L356.80 314.43L357.55 314.27L358.30 314.18L359.05 314.15L359.80 314.18L360.55 314.28L361.30 314.43L362.05 314.65L362.80 314.94L363.55 315.29L364.30 315.70L365.05 316.17L365.80 316.69L366.55 317.27L367.30 317.88L368.05 318.53L368.80 319.20L369.55 319.90L370.30 320.62L371.05 321.35L371.80 322.08L372.55 322.81L373.30 323.53L374.05 324.24L374.80 324.93L375.55 325.59L376.30 326.22L377.05 326.82L377.80 327.37L378.55 327.87L379.30 328.34L380.05 328.76L380.80 329.14L381.55 329.48L382.30 329.79L383.05 330.07L383.80 330.31L384.55 330.53L385.30 330.71L386.05 330.87L386.80 331.00L387.55 331.12L388.30 331.21L389.05 331.28L389.80 331.33L390.55 331.37L391.30 331.40L392.05 331.41L392.80 331.41L393.55 331.41L394.30 331.40L395.05 331.38L395.80 331.36L396.55 331.34L397.30 331.32L398.05 331.31L398.80 331.30L399.55 331.30L400.30 331.30L401.05 331.31L401.80 331.34L402.55 331.38L403.30 331.44L404.05 331.51L404.80 331.59L405.55 331.69L406.30 331.80L407.05 331.91L407.80 332.04L408.55 332.17L409.30 332.30L410.05 332.44L410.80 332.58L411.55 332.72L412.30 332.86L413.05 333.00L413.80 333.13L414.55 333.26L415.30 333.38L416.05 333.49L416.80 333.60L417.55 333.69L418.30 333.77L419.05 333.84L419.80 333.89L420.55 333.92L421.30 333.94L422.05 333.94L422.80 333.92L423.55 333.89L424.30 333.85L425.05 333.81L425.80 333.76L426.55 333.71L427.30 333.66L428.05 333.62L428.80 333.58L429.55 333.56L430.30 333.54L431.05 333.54L431.80 333.56L432.55 333.60L433.30 333.66L434.05 333.75L434.80 333.86L435.55 334.00L436.30 334.15L437.05 334.32L437.80 334.50L438.55 334.68L439.30 334.88L440.05 335.07L440.80 335.26L441.55 335.44L442.30 335.61L443.05 335.76L443.80 335.90L444.55 336.02L445.30 336.12L446.05 336.19L446.80 336.24L447.55 336.29L448.30 336.32L449.05 336.35L449.80 336.38L450.55 336.41L451.30 336.45L452.05 336.51L452.80 336.58L453.55 336.67L454.30 336.78L455.05 336.92L455.80 337.07L456.55 337.25L457.30 337.43L458.05 337.63L458.80 337.84L459.55 338.06L460.30 338.28L461.05 338.51L461.80 338.73L462.55 338.96L463.30 339.18L464.05 339.40L464.80 339.61L465.55 339.81L466.30 339.99L467.05 340.17L467.80 340.32L468.55 340.45L469.30 340.57L470.05 340.66L470.80 340.72L471.55 340.76L472.30 340.76L473.05 340.73L473.80 340.68L474.55 340.60L475.30 340.51L476.05 340.39L476.80 340.26L477.55 340.12L478.30 339.96L479.05 339.81L479.80 339.64L480.55 339.48L481.30 339.32L482.05 339.17L482.80 339.03L483.55 338.90L484.30 338.78L485.05 338.68L485.80 338.60L486.55 338.55L487.30 338.52L488.05 338.53L488.80 338.56L489.55 338.64L490.30 338.75L491.05 338.90L491.80 339.08L492.55 339.27L493.30 339.45L494.05 339.61L494.80 339.72L495.55 339.80L496.30 339.85L497.05 339.88L497.80 339.87L498.55 339.85L499.30 339.81L500.05 339.75L500.80 339.67L501.55 339.59L502.30 339.50L503.05 339.41L503.80 339.32L504.55 339.23L505.30 339.14L506.05 339.06L506.80 339.00L507.55 338.94L508.30 338.89L509.05 338.86L509.80 338.83L510.55 338.81L511.30 338.80L512.05 338.80L512.80 338.80L513.55 338.82L514.30 338.84L515.05 338.87L515.80 338.91L516.55 338.96L517.30 339.01L518.05 339.07L518.80 339.13L519.55 339.21L520.30 339.29L521.05 339.37L521.80 339.46L522.55 339.56L523.30 339.66L524.05 339.76L524.80 339.87L525.55 339.99L526.30 340.11L527.05 340.23L527.80 340.36L528.55 340.50L529.30 340.63L530.05 340.77L530.80 340.91L531.55 341.06L532.30 341.20L533.05 341.35L533.80 341.51L534.55 341.66L535.30 341.82L536.05 341.97L536.80 342.13L537.55 342.29L537.60 342.30" fill="none" stroke="#2a22b0" stroke-width="1.3" stroke-linejoin="round"/>
<path d="M49.2 338.5L49.3 309.6" stroke="#4a44c8" stroke-width="1.0" fill="none"/>
<path d="M48.5 251.0H538.5V417.5H48.5ZM48.50 398.50h5.00M538.50 398.50h-5.00M48.50 378.50h5.00M538.50 378.50h-5.00M48.50 359.50h5.00M538.50 359.50h-5.00M48.50 339.50h5.00M538.50 339.50h-5.00M48.50 320.50h5.00M538.50 320.50h-5.00M48.50 300.50h5.00M538.50 300.50h-5.00M48.50 281.50h5.00M538.50 281.50h-5.00M48.50 261.50h5.00M538.50 261.50h-5.00M97.50 417.50v-3.60M97.50 251.00v3.60M146.50 417.50v-3.60M146.50 251.00v3.60M195.50 417.50v-3.60M195.50 251.00v3.60M244.50 417.50v-3.60M244.50 251.00v3.60M293.50 417.50v-3.60M293.50 251.00v3.60M342.50 417.50v-3.60M342.50 251.00v3.60M391.50 417.50v-3.60M391.50 251.00v3.60M440.50 417.50v-3.60M440.50 251.00v3.60M489.50 417.50v-3.60M489.50 251.00v3.60" fill="none" stroke="#111" stroke-width="1"/>
<text x="43.20" y="420.40" font-size="10.3" text-anchor="end">-2000</text>
<text x="43.20" y="401.10" font-size="10.3" text-anchor="end">-1500</text>
<text x="43.20" y="381.80" font-size="10.3" text-anchor="end">-1000</text>
<text x="43.20" y="362.50" font-size="10.3" text-anchor="end">-500</text>
<text x="43.20" y="343.20" font-size="10.3" text-anchor="end">0</text>
<text x="43.20" y="323.90" font-size="10.3" text-anchor="end">500</text>
<text x="43.20" y="304.60" font-size="10.3" text-anchor="end">1000</text>
<text x="43.20" y="285.30" font-size="10.3" text-anchor="end">1500</text>
<text x="43.20" y="266.00" font-size="10.3" text-anchor="end">2000</text>
<text x="48.50" y="432.40" font-size="10.3" text-anchor="middle">0</text>
<text x="97.50" y="432.40" font-size="10.3" text-anchor="middle">1</text>
<text x="146.50" y="432.40" font-size="10.3" text-anchor="middle">2</text>
<text x="195.50" y="432.40" font-size="10.3" text-anchor="middle">3</text>
<text x="244.50" y="432.40" font-size="10.3" text-anchor="middle">4</text>
<text x="293.50" y="432.40" font-size="10.3" text-anchor="middle">5</text>
<text x="342.50" y="432.40" font-size="10.3" text-anchor="middle">6</text>
<text x="391.50" y="432.40" font-size="10.3" text-anchor="middle">7</text>
<text x="440.50" y="432.40" font-size="10.3" text-anchor="middle">8</text>
<text x="489.50" y="432.40" font-size="10.3" text-anchor="middle">9</text>
<text x="538.50" y="432.40" font-size="10.3" text-anchor="middle">10</text>
<text x="293.70" y="446.30" font-size="10.6" text-anchor="middle" class="b">TIME(s)</text>
<text transform="translate(13.1,338.9) rotate(-90)" class="b" font-size="11" text-anchor="middle">SPEED(r/min)</text>
<rect x="449" y="256.9" width="80.8" height="12.7" fill="#fff" stroke="#222" stroke-width="1.6"/>
<path d="M451.2 263.5H472.4" stroke="#2a22b0" stroke-width="1.4"/>
<text x="472.60" y="266.80" font-size="10.1">SRM SPEED</text>
<text x="274.4" y="469" font-size="16.5" text-anchor="middle">(<tspan font-weight="bold">b</tspan>)</text>
<path d="M33.5 481.3H539.5V618.0H33.5ZM33.50 526.50h4.60M539.50 526.50h-4.60M33.50 572.50h4.60M539.50 572.50h-4.60M84.50 618.00v-3.20M84.50 481.30v3.20M134.50 618.00v-3.20M134.50 481.30v3.20M185.50 618.00v-3.20M185.50 481.30v3.20M235.50 618.00v-3.20M235.50 481.30v3.20M286.50 618.00v-3.20M286.50 481.30v3.20M337.50 618.00v-3.20M337.50 481.30v3.20M387.50 618.00v-3.20M387.50 481.30v3.20M438.50 618.00v-3.20M438.50 481.30v3.20M488.50 618.00v-3.20M488.50 481.30v3.20" fill="none" stroke="#111" stroke-width="1"/>
<path d="M35.00 560.85L35.75 561.45L36.50 561.99L37.25 562.48L38.00 562.95L38.75 563.41L39.50 563.89L40.25 564.41L41.00 564.99L41.75 565.66L42.50 566.42L43.25 567.31L44.00 568.34L44.75 569.53L45.50 570.85L46.25 572.27L47.00 573.72L47.75 575.17L48.50 576.57L49.25 577.89L50.00 579.13L50.75 580.29L51.50 581.37L52.25 582.37L53.00 583.29L53.75 584.13L54.50 584.89L55.25 585.57L56.00 586.15L56.75 586.66L57.50 587.07L58.25 587.39L59.00 587.62L59.75 587.75L60.50 587.79L61.25 587.73L62.00 587.57L62.75 587.31L63.50 586.95L64.25 586.49L65.00 585.93L65.75 585.29L66.50 584.56L67.25 583.78L68.00 582.93L68.75 582.04L69.50 581.12L70.25 580.16L71.00 579.19L71.75 578.22L72.00 577.89 M72.40 578.26L73.15 578.00L73.90 577.80L74.65 577.66L75.40 577.56L76.15 577.52L76.90 577.51L77.65 577.55L78.40 577.62L79.15 577.72L79.90 577.85L80.65 578.01L81.40 578.18L82.15 578.37L82.90 578.58L83.65 578.80L84.40 579.02L85.15 579.24L85.90 579.47L86.65 579.69L87.40 579.89L88.15 580.09L88.90 580.27L89.65 580.43L90.40 580.57L91.15 580.68L91.90 580.76L92.65 580.80L93.40 580.81L94.15 580.77L94.90 580.69L95.65 580.56L96.40 580.37L97.15 580.13L97.90 579.83L98.65 579.47L99.40 579.06L100.15 578.61L100.90 578.11L101.65 577.58L102.40 577.02L103.15 576.44L103.90 575.83L104.65 575.22L105.40 574.60L106.15 573.98L106.90 573.36L107.65 572.75L108.40 572.16L109.15 571.58L109.90 571.04L110.65 570.52L111.40 570.04L112.15 569.61L112.90 569.22L113.65 568.89L114.40 568.62L115.15 568.41L115.90 568.27L116.65 568.21L117.40 568.24L118.15 568.34L118.90 568.55L119.65 568.85L120.40 569.23L121.15 569.70L121.90 570.22L122.65 570.79L123.40 571.39L124.15 572.00L124.90 572.62L125.65 573.22L126.40 573.80L127.15 574.33L127.90 574.81L128.65 575.22L129.40 575.54L130.15 575.76L130.90 575.86L131.65 575.85L132.40 575.73L133.15 575.51L133.90 575.20L134.65 574.80L135.40 574.32L136.15 573.78L136.90 573.17L137.65 572.52L138.40 571.82L139.15 571.08L139.90 570.32L140.65 569.53L141.40 568.72L142.15 567.90L142.90 567.08L143.65 566.26L144.40 565.44L145.15 564.63L145.90 563.85L146.65 563.08L147.40 562.35L148.15 561.66L148.90 561.00L149.65 560.40L150.40 559.85L151.15 559.36L151.90 558.94L152.65 558.60L153.40 558.33L154.15 558.14L154.60 558.08 M154.60 557.53L155.35 557.94L156.10 558.34L156.85 558.73L157.60 559.12L158.35 559.50L159.10 559.87L159.85 560.24L160.60 560.60L161.35 560.96L162.10 561.31L162.85 561.65L163.60 561.98L164.35 562.31L165.10 562.63L165.85 562.94L166.60 563.25L167.35 563.55L168.10 563.84L168.85 564.12L169.60 564.39L170.35 564.66L171.10 564.92L171.85 565.17L172.60 565.41L173.35 565.65L174.10 565.89L174.85 566.12L175.60 566.36L176.35 566.60L177.10 566.84L177.85 567.08L178.60 567.33L179.35 567.58L180.10 567.85L180.85 568.13L181.60 568.41L182.35 568.71L183.10 569.03L183.85 569.36L184.60 569.71L185.35 570.08L186.10 570.46L186.85 570.88L187.60 571.31L188.35 571.77L189.10 572.25L189.85 572.77L190.60 573.30L191.35 573.85L192.10 574.42L192.85 575.00L193.60 575.60L194.35 576.19L195.10 576.80L195.85 577.40L196.60 578.00L197.35 578.59L198.10 579.18L198.85 579.75L199.60 580.31L200.35 580.85L201.10 581.37L201.85 581.86L202.60 582.33L203.35 582.76L204.10 583.16L204.85 583.53L205.60 583.85L206.35 584.13L207.10 584.36L207.85 584.55L208.60 584.68L209.35 584.75L210.10 584.77L210.85 584.72L211.60 584.61L212.35 584.43L213.10 584.18L213.85 583.85L214.60 583.45L215.35 582.96L216.10 582.39L216.85 581.74L217.60 580.99 M219.80 581.10L220.55 580.25L221.30 579.51L222.05 578.85L222.80 578.28L223.55 577.80L224.30 577.38L225.05 577.04L225.80 576.77L226.55 576.55L227.30 576.39L228.05 576.29L228.80 576.22L229.55 576.20L230.30 576.21L231.05 576.25L231.80 576.31L232.55 576.40L233.30 576.50L234.05 576.60L234.80 576.71L235.55 576.82L236.30 576.93L237.05 577.02L237.80 577.09L238.55 577.15L239.30 577.20L240.05 577.23L240.80 577.24L241.55 577.23L242.30 577.21L243.05 577.17L243.80 577.11L244.55 577.04L245.30 576.94L246.05 576.82L246.80 576.68L247.55 576.53L248.30 576.35L249.05 576.15L249.80 575.93L250.55 575.68L251.30 575.41L252.05 575.12L252.80 574.82L253.55 574.49L254.30 574.16L255.05 573.82L255.80 573.47L256.55 573.12L257.30 572.76L258.05 572.41L258.80 572.07L259.55 571.74L260.30 571.41L261.05 571.10L261.80 570.82L262.55 570.55L263.30 570.30L264.05 570.08L264.80 569.90L265.55 569.74L266.30 569.62L267.05 569.54L267.80 569.51L268.55 569.51L269.30 569.57L270.05 569.68L270.80 569.84L271.55 570.05L272.30 570.33L273.05 570.67L273.80 571.07L274.55 571.52L275.30 572.01L276.05 572.53L276.80 573.07L277.55 573.63L278.30 574.19L279.05 574.75L279.80 575.29L280.55 575.81L281.30 576.29L282.05 576.74L282.80 577.13L283.55 577.47L284.30 577.73L285.05 577.92L285.80 578.02L286.55 578.03L287.30 577.95L288.05 577.79L288.80 577.55L289.55 577.24L290.30 576.86L291.05 576.42L291.80 575.92L292.55 575.38L293.30 574.80L294.05 574.18L294.80 573.54L295.55 572.87L296.30 572.20L297.05 571.52L297.80 570.84L298.55 570.18L299.30 569.53L300.05 568.91L300.80 568.32L301.55 567.77L302.30 567.27L303.05 566.82L303.80 566.44L304.55 566.11L305.30 565.84L306.05 565.63L306.80 565.47L307.55 565.35L308.30 565.28L309.05 565.25L309.80 565.26L310.55 565.30L311.30 565.37L312.05 565.47L312.80 565.59L313.55 565.73L314.30 565.89L315.05 566.06L315.80 566.25L316.55 566.44L317.30 566.63L318.05 566.82L318.80 567.00L319.55 567.18L320.30 567.34L321.05 567.49L321.80 567.61L322.55 567.72L323.30 567.80L324.05 567.84L324.80 567.85L325.55 567.82L326.30 567.76L327.05 567.64L327.80 567.48L328.55 567.27L329.30 567.01L330.05 566.73L330.80 566.42L331.55 566.09L332.30 565.75L333.05 565.40L333.80 565.05L334.55 564.71L335.30 564.38L336.05 564.07L336.80 563.78L337.55 563.52L338.30 563.29L339.05 563.10L339.80 562.94L340.55 562.84L341.30 562.78L342.05 562.77L342.80 562.82L343.55 562.94L344.30 563.12L345.05 563.38L345.80 563.71L346.55 564.12L347.30 564.62L348.05 565.20L348.80 565.84L349.55 566.55L350.30 567.30L351.05 568.08L351.80 568.88L352.55 569.70L353.30 570.51L354.05 571.32L354.80 572.12L355.55 572.91L356.30 573.67L357.05 574.41L357.80 575.11L358.55 575.77L359.30 576.38L360.05 576.94L360.80 577.45L361.55 577.88L362.30 578.25L363.05 578.54L363.80 578.75L364.55 578.88L365.30 578.92L366.05 578.90L366.80 578.82L367.55 578.68L368.30 578.50L369.05 578.27L369.80 578.02L370.55 577.75L371.30 577.45L372.05 577.15L372.80 576.84L373.55 576.53L374.30 576.21L375.05 575.89L375.80 575.56L376.55 575.24L377.30 574.93L378.05 574.62L378.80 574.32L379.55 574.02L380.30 573.74L381.05 573.48L381.80 573.23L382.55 573.00L383.30 572.79L384.05 572.60L384.80 572.44L385.55 572.30L386.30 572.20L387.05 572.11L387.80 572.06L388.55 572.03L389.30 572.02L390.05 572.03L390.80 572.06L391.55 572.10L392.30 572.17L393.05 572.24L393.80 572.33L394.55 572.43L395.30 572.54L396.05 572.66L396.80 572.78L397.55 572.91L398.30 573.04L399.05 573.18L399.80 573.31L400.55 573.44L401.30 573.57L402.05 573.69L402.80 573.81L403.55 573.92L404.30 574.01L405.05 574.09L405.80 574.16L406.55 574.21L407.30 574.24L408.05 574.25L408.80 574.23L409.55 574.19L410.30 574.12L411.05 574.03L411.80 573.90L412.55 573.75L413.30 573.59L414.05 573.41L414.80 573.22L415.55 573.04L416.30 572.86L417.05 572.69L417.80 572.54L418.55 572.41L419.30 572.29L420.05 572.19L420.80 572.10L421.55 572.03L422.30 571.98L423.05 571.94L423.80 571.91L424.55 571.90L425.30 571.91L426.05 571.92L426.80 571.95L427.55 572.00L428.30 572.06L429.05 572.13L429.80 572.22L430.55 572.31L431.30 572.42L432.05 572.54L432.80 572.65L433.55 572.77L434.30 572.88L435.05 572.98L435.80 573.07L436.55 573.14L437.30 573.20L438.05 573.24L438.80 573.26L439.55 573.27L440.30 573.28L441.05 573.27L441.80 573.26L442.55 573.24L443.30 573.23L444.05 573.21L444.80 573.20L445.55 573.19L446.30 573.18L447.05 573.19L447.80 573.21L448.55 573.24L449.30 573.28L450.05 573.34L450.80 573.43L451.55 573.53L452.30 573.66L453.05 573.80L453.80 573.96L454.55 574.12L455.30 574.28L456.05 574.42L456.80 574.54L457.55 574.64L458.30 574.71L459.05 574.75L459.80 574.75L460.55 574.73L461.30 574.69L462.05 574.62L462.80 574.52L463.55 574.41L464.30 574.28L465.05 574.13L465.80 573.96L466.55 573.78L467.30 573.59L468.05 573.40L468.80 573.19L469.55 572.97L470.30 572.76L471.05 572.54L471.80 572.32L472.55 572.11L473.30 571.91L474.05 571.71L474.80 571.53L475.55 571.36L476.30 571.22L477.05 571.09L477.80 570.99L478.55 570.91L479.30 570.87L480.05 570.86L480.80 570.88L481.55 570.93L482.30 571.02L483.05 571.13L483.80 571.26L484.55 571.40L485.30 571.56L486.05 571.73L486.80 571.91L487.55 572.08L488.30 572.25L489.05 572.42L489.80 572.57L490.55 572.71L491.30 572.83L492.05 572.93L492.80 573.00L493.55 573.04L494.30 573.05L495.05 573.01L495.80 572.94L496.55 572.82L497.30 572.67L498.05 572.50L498.80 572.31L499.55 572.12L500.30 571.93L501.05 571.76L501.80 571.61L502.55 571.48L503.30 571.39L504.05 571.33L504.80 571.30L505.55 571.30L506.30 571.32L507.05 571.36L507.80 571.42L508.55 571.50L509.30 571.59L510.05 571.71L510.80 571.83L511.55 571.96L512.30 572.11L513.05 572.26L513.80 572.41L514.55 572.57L515.30 572.73L516.05 572.88L516.80 573.04L517.55 573.19L518.30 573.33L519.05 573.46L519.80 573.58L520.55 573.69L521.30 573.79L522.05 573.86L522.80 573.92L523.55 573.97L524.30 574.00L525.05 574.01L525.80 574.00L526.55 573.98L527.30 573.95L528.05 573.90L528.80 573.84L529.55 573.77L530.30 573.68L531.05 573.58L531.80 573.47L532.55 573.35L533.30 573.21L534.05 573.07L534.80 572.91L535.55 572.75L536.30 572.57L537.05 572.39L537.80 572.20L538.55 572.00L539.00 571.88" fill="none" stroke="#ff0000" stroke-width="1.55" stroke-linejoin="round"/>
<path d="M72 577.8L72.3 574.1L72.5 578.2M217.6 580.6L218.7 577.4L219.8 581.2" fill="none" stroke="#ff0000" stroke-width="1.6" stroke-linecap="round" stroke-linejoin="round"/>
<path d="M34.8 482.2L34.9 561.5M34.8 561.5L34.8 571.5" fill="none" stroke="#ff0000" stroke-width="1.3"/>
<path d="M155.3 551.6C154.9 554 154.6 556 154.6 558C154.4 562 154.2 567 153.9 572.8" fill="none" stroke="#ff0000" stroke-width="1.9" stroke-linecap="round"/>
<rect x="140.4" y="539.5" width="25.1" height="40.2" fill="none" stroke="#a8d4f4" stroke-width="1.1"/>
<text x="29.20" y="484.20" font-size="10.5" text-anchor="end">100</text>
<text x="29.60" y="530.90" font-size="10.5" text-anchor="end">50</text>
<text x="29.60" y="576.70" font-size="10.5" text-anchor="end">0</text>
<text x="30.60" y="622.60" font-size="10.5" text-anchor="end">-50</text>
<text x="33.50" y="633.30" font-size="10.3" text-anchor="middle">0</text>
<text x="84.10" y="633.30" font-size="10.3" text-anchor="middle">1</text>
<text x="134.70" y="633.30" font-size="10.3" text-anchor="middle">2</text>
<text x="185.30" y="633.30" font-size="10.3" text-anchor="middle">3</text>
<text x="235.90" y="633.30" font-size="10.3" text-anchor="middle">4</text>
<text x="286.50" y="633.30" font-size="10.3" text-anchor="middle">5</text>
<text x="337.10" y="633.30" font-size="10.3" text-anchor="middle">6</text>
<text x="387.70" y="633.30" font-size="10.3" text-anchor="middle">7</text>
<text x="438.30" y="633.30" font-size="10.3" text-anchor="middle">8</text>
<text x="488.90" y="633.30" font-size="10.3" text-anchor="middle">9</text>
<text x="539.50" y="633.30" font-size="10.3" text-anchor="middle">10</text>
<path d="M33.5 618H539.5" stroke="#222" stroke-width="1.5"/>
<text x="287.30" y="649.40" font-size="12.7" text-anchor="middle" class="b">TIME(s)</text>
<text transform="translate(14.0,550.8) rotate(-90)" class="b" font-size="12.8" text-anchor="middle" textLength="79.5" lengthAdjust="spacing">TORQUE(N.m)</text>
<rect x="439.5" y="486.7" width="94" height="13.8" fill="#fff" stroke="#111" stroke-width="1.1"/>
<path d="M442 493.5H464.6" stroke="#ff0000" stroke-width="2"/>
<text x="467.80" y="497.80" font-size="9.7">SRM TORQUE</text>
<text x="274.6" y="673" font-size="16.5" text-anchor="middle">(<tspan font-weight="bold">c</tspan>)</text>
</svg>
</body></html>
